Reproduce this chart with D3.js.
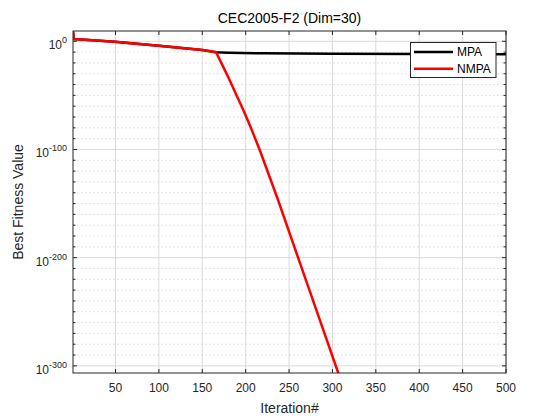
<!DOCTYPE html>
<html>
<head>
<meta charset="utf-8">
<script src="https://cdn.jsdelivr.net/npm/d3@7"></script>
<style>
  html, body { margin: 0; padding: 0; background: #fff; }
  svg { display: block; font-family: "Liberation Sans", Arial, sans-serif; }
</style>
</head>
<body>
<svg id="chart" width="560" height="420"></svg>
<script>
// ---- data ----
const seriesNames = ["MPA", "NMPA"];
const seriesColors = ["#000000", "#ff0000"];
const mpaIter  = [1, 2, 49, 100, 150, 166, 180, 220, 300, 400, 500];
const mpaValue = [1e9, 1e2, 0.4, 8e-5, 1e-8, 6e-11, 2.5e-11, 8e-12, 3.5e-12, 1.5e-12, 8e-13];
const nmpaIter  = [1, 2, 49, 100, 150, 166, 181, 197, 206, 216, 237, 260, 283, 306, 310];
const nmpaValue = [1e9, 1e2, 0.4, 8e-5, 1e-8, 6e-11, 1e-35, 1e-63, 1e-80, 1e-100, 1e-146, 1e-199, 1e-252, 1e-305, 1e-314];
const xTicks = [50, 100, 150, 200, 250, 300, 350, 400, 450, 500];
const yMajorExp = [0, -100, -200, -300];
const yMinorExp = d3.range(-300, 1, 10);
const titleText = "CEC2005-F2 (Dim=30)";
const xLabel = "Iteration#";
const yLabel = "Best Fitness Value";

// ---- layout ----
const L = 73, R = 506, T = 31, B = 373;
const svg = d3.select("#chart");
const x = d3.scaleLinear().domain([1, 500]).range([L, R]);
const y = d3.scaleLog().domain([2.5e-307, 3.2e9]).range([B, T]);
const axisColor = "#262626";

// grid
const grid = svg.append("g");
grid.selectAll("line.ymin").data(yMinorExp.filter(e => !yMajorExp.includes(e))).enter().append("line")
  .attr("x1", L).attr("x2", R)
  .attr("y1", e => y(Math.pow(10, e))).attr("y2", e => y(Math.pow(10, e)))
  .attr("stroke", "#dcdcdc").attr("stroke-width", 0.8).attr("stroke-dasharray", "2,2");
grid.selectAll("line.ymaj").data(yMajorExp).enter().append("line")
  .attr("x1", L).attr("x2", R)
  .attr("y1", e => y(Math.pow(10, e))).attr("y2", e => y(Math.pow(10, e)))
  .attr("stroke", "#dadada").attr("stroke-width", 1);
grid.selectAll("line.xmaj").data(xTicks).enter().append("line")
  .attr("y1", T).attr("y2", B)
  .attr("x1", d => x(d)).attr("x2", d => x(d))
  .attr("stroke", "#dadada").attr("stroke-width", 1);

// lines
svg.append("defs").append("clipPath").attr("id", "clip")
  .append("rect").attr("x", L).attr("y", T).attr("width", R - L).attr("height", B - T);
const line = d3.line().x(d => x(d[0])).y(d => y(d[1]));
const seriesData = [
  d3.zip(mpaIter, mpaValue),
  d3.zip(nmpaIter, nmpaValue)
];
const plot = svg.append("g").attr("clip-path", "url(#clip)");
seriesData.forEach((s, i) => {
  plot.append("path").datum(s).attr("d", line)
    .attr("fill", "none").attr("stroke", seriesColors[i])
    .attr("stroke-width", 2.5).attr("stroke-linejoin", "round");
});

// axes box
svg.append("rect").attr("x", L).attr("y", T).attr("width", R - L).attr("height", B - T)
  .attr("fill", "none").attr("stroke", axisColor).attr("stroke-width", 1);

// ticks
const ticks = svg.append("g").attr("stroke", axisColor).attr("stroke-width", 1);
xTicks.forEach(t => {
  ticks.append("line").attr("x1", x(t)).attr("x2", x(t)).attr("y1", B).attr("y2", B - 4);
  ticks.append("line").attr("x1", x(t)).attr("x2", x(t)).attr("y1", T).attr("y2", T + 4);
});
yMinorExp.forEach(e => {
  const len = yMajorExp.includes(e) ? 4 : 2.5;
  const yy = y(Math.pow(10, e));
  ticks.append("line").attr("x1", L).attr("x2", L + len).attr("y1", yy).attr("y2", yy);
  ticks.append("line").attr("x1", R).attr("x2", R - len).attr("y1", yy).attr("y2", yy);
});

// tick labels
svg.selectAll("text.xt").data(xTicks).enter().append("text")
  .attr("x", d => x(d)).attr("y", B + 19)
  .attr("text-anchor", "middle").attr("font-size", 12).attr("fill", axisColor)
  .text(d => d);
yMajorExp.forEach(e => {
  const t = svg.append("text")
    .attr("x", L - 6).attr("y", y(Math.pow(10, e)) + 8)
    .attr("text-anchor", "end").attr("font-size", 12).attr("fill", axisColor);
  t.append("tspan").text("10");
  t.append("tspan").attr("dy", -6).attr("font-size", 9).text(e);
});

// title & labels
svg.append("text").attr("x", (L + R) / 2).attr("y", 23)
  .attr("text-anchor", "middle").attr("font-size", 14).attr("fill", "#000").text(titleText);
svg.append("text").attr("x", (L + R) / 2).attr("y", 413)
  .attr("text-anchor", "middle").attr("font-size", 14).attr("fill", axisColor).text(xLabel);
svg.append("text").attr("transform", `translate(23,${(T + B) / 2}) rotate(-90)`)
  .attr("text-anchor", "middle").attr("font-size", 14).attr("fill", axisColor).text(yLabel);

// legend
const lg = svg.append("g");
lg.append("rect").attr("x", 410.5).attr("y", 42.5).attr("width", 85.5).attr("height", 35)
  .attr("fill", "#fff").attr("stroke", axisColor).attr("stroke-width", 1);
seriesNames.forEach((n, i) => {
  const yy = 52 + i * 16.7;
  lg.append("line").attr("x1", 414).attr("x2", 453).attr("y1", yy).attr("y2", yy)
    .attr("stroke", seriesColors[i]).attr("stroke-width", 2.5);
  lg.append("text").attr("x", 457).attr("y", yy + 4.2).attr("font-size", 12)
    .attr("fill", "#000").text(n);
});
</script>
</body>
</html>
